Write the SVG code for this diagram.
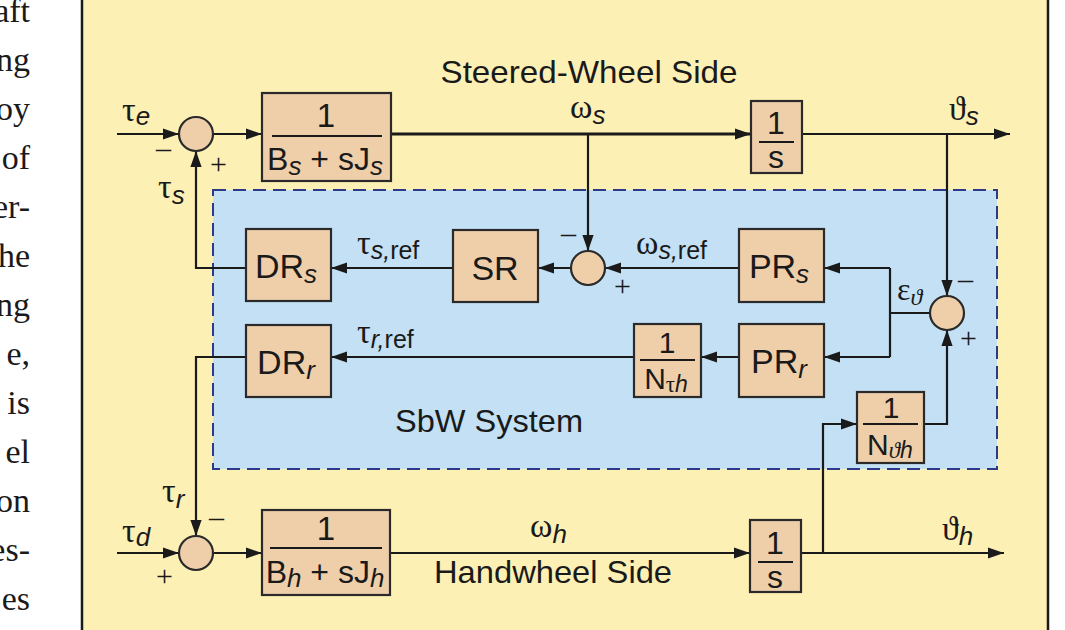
<svg xmlns="http://www.w3.org/2000/svg" width="1065" height="630" viewBox="0 0 1065 630">
<defs>
<marker id="ar" viewBox="0 0 10 10" refX="10" refY="5" markerWidth="16" markerHeight="16" markerUnits="userSpaceOnUse" orient="auto"><path d="M0,1.5 L10,5 L0,8.5 z" fill="#1a1a1a"/></marker>
<style>
.b{fill:#efcfaa;stroke:#2a2a2a;stroke-width:2.2}
.c{fill:none;stroke:#1a1a1a;stroke-width:2.2}
.t{font-family:"Liberation Sans",Arial,sans-serif;fill:#1a1a1a}
.g{font-family:"Liberation Serif","DejaVu Serif",serif;fill:#1a1a1a}
.body{font-family:"Liberation Serif",serif;font-size:34px;fill:#1a1a1a;text-anchor:end}
</style>
</defs>
<rect width="1065" height="630" fill="#fff"/>
<g class="body">
<text x="30" y="22">aft</text><text x="30" y="71">ng</text><text x="30" y="120">oy</text><text x="30" y="169">of</text><text x="30" y="218">er-</text><text x="30" y="267">he</text><text x="30" y="316">ng</text><text x="30" y="365">e,</text><text x="30" y="414">is</text><text x="30" y="463">el</text><text x="30" y="512">on</text><text x="30" y="561">es-</text><text x="30" y="610">es</text>
</g>
<rect x="82" y="-2" width="966" height="640" fill="#fdf0b5" stroke="#1a1a1a" stroke-width="2.5"/>
<rect id="sbw" x="213" y="190" width="784" height="279" fill="#c3e0f4" stroke="#2d3a8a" stroke-width="2" stroke-dasharray="13,7"/>
<g id="connectors" class="c">
<line x1="117" y1="134" x2="179" y2="134" marker-end="url(#ar)"/>
<line x1="213" y1="134" x2="262" y2="134" marker-end="url(#ar)"/>
<line x1="391" y1="134" x2="751" y2="134" stroke-width="2.8" marker-end="url(#ar)"/>
<line x1="802" y1="134" x2="1010" y2="134" marker-end="url(#ar)"/>
<line x1="588" y1="134" x2="588" y2="251" marker-end="url(#ar)"/>
<line x1="947" y1="134" x2="947" y2="296" marker-end="url(#ar)"/>
<polyline points="930,313 890,313"/>
<polyline points="890,268 890,357"/>
<line x1="890" y1="268" x2="824" y2="268" marker-end="url(#ar)"/>
<line x1="890" y1="357" x2="824" y2="357" marker-end="url(#ar)"/>
<line x1="739" y1="268" x2="605" y2="268" marker-end="url(#ar)"/>
<line x1="571" y1="268" x2="538" y2="268" marker-end="url(#ar)"/>
<line x1="453" y1="268" x2="331" y2="268" marker-end="url(#ar)"/>
<line x1="739" y1="357" x2="701" y2="357" marker-end="url(#ar)"/>
<line x1="634" y1="357" x2="331" y2="357" marker-end="url(#ar)"/>
<polyline points="246,268 196,268 196,151" marker-end="url(#ar)"/>
<polyline points="246,357 196,357 196,536" marker-end="url(#ar)"/>
<line x1="117" y1="553" x2="179" y2="553" marker-end="url(#ar)"/>
<line x1="213" y1="553" x2="262" y2="553" marker-end="url(#ar)"/>
<line x1="390" y1="553" x2="750" y2="553" marker-end="url(#ar)"/>
<line x1="801" y1="553" x2="1004" y2="553" marker-end="url(#ar)"/>
<polyline points="823,553 823,424 857,424" marker-end="url(#ar)"/>
<polyline points="924,424 947,424 947,330" marker-end="url(#ar)"/>
</g>
<g id="sum1"><circle cx="196" cy="134" r="17" class="b"/></g>
<g id="sum2"><circle cx="588" cy="268" r="17" class="b"/></g>
<g id="sum3"><circle cx="947" cy="313" r="17" class="b"/></g>
<g id="sum4"><circle cx="196" cy="553" r="17" class="b"/></g>
<g id="plantS"><rect x="262" y="93" width="129" height="88" class="b"/><line x1="272" y1="136" x2="382" y2="136" class="c"/><text class="t" x="326" y="127" font-size="33" text-anchor="middle">1</text><text class="t" x="325" y="170" font-size="32" text-anchor="middle">B<tspan font-style="italic" font-size="26" dy="5">s</tspan><tspan dy="-5"> + sJ</tspan><tspan font-style="italic" font-size="26" dy="5">s</tspan></text></g>
<g id="intS"><rect x="751" y="101" width="51" height="72" class="b"/><line x1="759" y1="142" x2="794" y2="142" class="c"/><text class="t" x="776" y="134" font-size="32" text-anchor="middle">1</text><text class="t" x="776" y="168" font-size="32" text-anchor="middle">s</text></g>
<g id="plantH"><rect x="262" y="510" width="128" height="85" class="b"/><line x1="270" y1="548" x2="382" y2="548" class="c"/><text class="t" x="326" y="540" font-size="33" text-anchor="middle">1</text><text class="t" x="325" y="583" font-size="32" text-anchor="middle">B<tspan font-style="italic" font-size="26" dy="4">h</tspan><tspan dy="-4"> + sJ</tspan><tspan font-style="italic" font-size="26" dy="4">h</tspan></text></g>
<g id="intH"><rect x="750" y="520" width="51" height="72" class="b"/><line x1="758" y1="562" x2="793" y2="562" class="c"/><text class="t" x="775" y="554" font-size="32" text-anchor="middle">1</text><text class="t" x="775" y="588" font-size="32" text-anchor="middle">s</text></g>
<g id="DRs"><rect x="246" y="229" width="85" height="72" class="b"/><text class="t" x="286" y="278" font-size="34" text-anchor="middle">DR<tspan font-style="italic" font-size="26" dy="5">s</tspan></text></g>
<g id="DRr"><rect x="246" y="325" width="85" height="72" class="b"/><text class="t" x="286" y="374" font-size="34" text-anchor="middle">DR<tspan font-style="italic" font-size="26" dy="5">r</tspan></text></g>
<g id="SR"><rect x="453" y="230" width="85" height="72" class="b"/><text class="t" x="495" y="280" font-size="34" text-anchor="middle">SR</text></g>
<g id="PRs"><rect x="739" y="229" width="85" height="73" class="b"/><text class="t" x="779" y="278" font-size="34" text-anchor="middle">PR<tspan font-style="italic" font-size="26" dy="5">s</tspan></text></g>
<g id="PRr"><rect x="739" y="324" width="85" height="73" class="b"/><text class="t" x="779" y="373" font-size="34" text-anchor="middle">PR<tspan font-style="italic" font-size="26" dy="5">r</tspan></text></g>
<g id="Ntau"><rect x="634" y="324" width="67" height="73" class="b"/><line x1="640" y1="360" x2="695" y2="360" class="c"/><text class="t" x="667" y="353" font-size="30" text-anchor="middle">1</text><text class="t" x="666" y="389" font-size="30" text-anchor="middle">N<tspan class="g" font-size="23" dy="3">τ</tspan><tspan font-style="italic" font-size="23">h</tspan></text></g>
<g id="Nth"><rect x="857" y="392" width="67" height="71" class="b"/><line x1="863" y1="424" x2="918" y2="424" class="c"/><text class="t" x="891" y="418" font-size="30" text-anchor="middle">1</text><text class="t" x="890" y="455" font-size="30" text-anchor="middle">N<tspan class="g" font-style="italic" font-size="23" dy="3">ϑ</tspan><tspan font-style="italic" font-size="23">h</tspan></text></g>
<g id="labels">
<text class="t" x="589" y="83" font-size="32" text-anchor="middle" textLength="297" lengthAdjust="spacingAndGlyphs">Steered-Wheel Side</text>
<text class="t" x="553" y="583" font-size="32" text-anchor="middle" textLength="238" lengthAdjust="spacingAndGlyphs">Handwheel Side</text>
<text class="t" x="489" y="432" font-size="32" text-anchor="middle" textLength="188" lengthAdjust="spacingAndGlyphs">SbW System</text>
<text class="g" x="122" y="121" font-size="34">τ<tspan class="t" font-style="italic" font-size="26" dy="4">e</tspan></text>
<text class="g" x="122" y="542" font-size="34">τ<tspan class="t" font-style="italic" font-size="26" dy="4">d</tspan></text>
<text class="g" x="158" y="198" font-size="34">τ<tspan class="t" font-style="italic" font-size="26" dy="6">s</tspan></text>
<text class="g" x="162" y="502" font-size="34">τ<tspan class="t" font-style="italic" font-size="26" dy="6">r</tspan></text>
<text class="g" x="156" y="158" font-size="30">–</text>
<text class="g" x="210" y="174" font-size="30">+</text>
<text class="g" x="209" y="527" font-size="30">–</text>
<text class="g" x="156" y="586" font-size="30">+</text>
<text class="g" x="561" y="243" font-size="30">–</text>
<text class="g" x="614" y="296" font-size="30">+</text>
<text class="g" x="958" y="289" font-size="30">–</text>
<text class="g" x="960" y="348" font-size="30">+</text>
<text class="g" x="570" y="118" font-size="34">ω<tspan class="t" font-style="italic" font-size="26" dy="6">s</tspan></text>
<text class="g" x="530" y="537" font-size="34">ω<tspan class="t" font-style="italic" font-size="26" dy="6">h</tspan></text>
<text class="g" x="949" y="120" font-size="34">ϑ<tspan class="t" font-style="italic" font-size="26" dy="5">s</tspan></text>
<text class="g" x="942" y="540" font-size="34">ϑ<tspan class="t" font-style="italic" font-size="26" dy="5">h</tspan></text>
<text class="g" x="357" y="254" font-size="34">τ<tspan class="t" font-style="italic" font-size="25" dy="5">s,</tspan><tspan class="t" font-size="25">ref</tspan></text>
<text class="g" x="357" y="343" font-size="34">τ<tspan class="t" font-style="italic" font-size="25" dy="5">r,</tspan><tspan class="t" font-size="25">ref</tspan></text>
<text class="g" x="636" y="254" font-size="34">ω<tspan class="t" font-style="italic" font-size="25" dy="5">s,</tspan><tspan class="t" font-size="25">ref</tspan></text>
<text class="g" x="897" y="300" font-size="32">ε<tspan font-style="italic" font-size="24" dy="5">ϑ</tspan></text>
</g>
</svg>
